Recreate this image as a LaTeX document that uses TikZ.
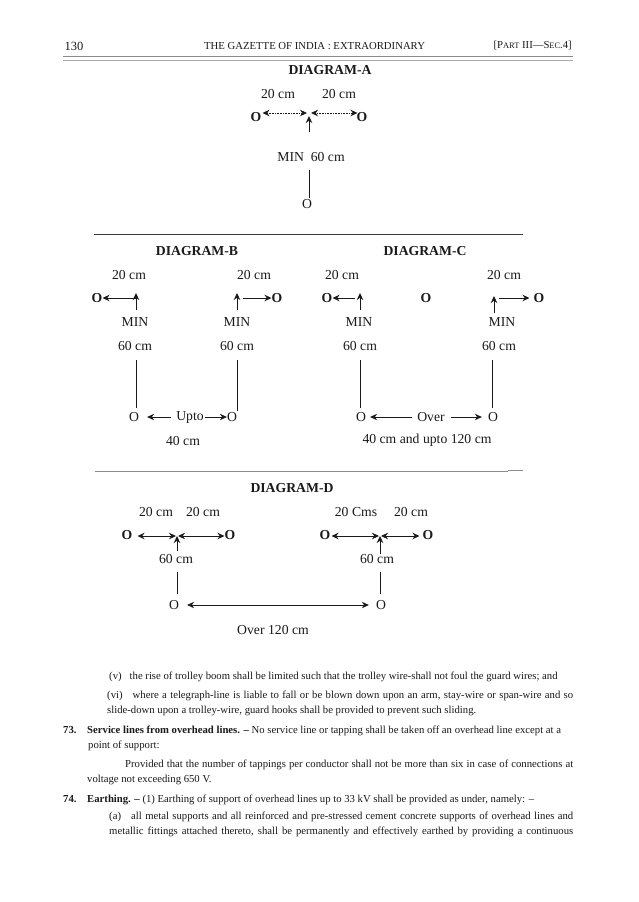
\documentclass[tikz,border=0pt]{standalone}
\usepackage{fontspec}
\setmainfont{Liberation Serif}
\usetikzlibrary{arrows.meta}
\definecolor{inkC}{HTML}{1A1A1A}
\definecolor{ruleC}{HTML}{8A8A8A}
\definecolor{thickC}{HTML}{3A3A3A}
\tikzset{
  lbl/.style={font=\fontsize{13.7}{15}\selectfont, text=inkC, inner sep=0pt},
  hd/.style={lbl, font=\fontsize{13.7}{15}\selectfont\bfseries},
  pole/.style={hd},
  btm/.style={lbl},
  body/.style={font=\fontsize{10.7}{12}\selectfont, text=inkC, inner sep=0pt, anchor=west},
  head/.style={font=\fontsize{10.7}{13}\selectfont, text=inkC, inner sep=0pt},
  arr/.style={-{Stealth[length=7pt,width=6.5pt]}, draw=inkC, line width=1pt},
  both/.style={{Stealth[length=7pt,width=6.5pt]}-{Stealth[length=7pt,width=6.5pt]}, draw=inkC, line width=1pt},
  wire/.style={draw=inkC, line width=0.8pt},
}
\newcommand\smc[1]{{\fontsize{8.4}{10}\selectfont #1}}
\newcommand\just[1]{\makebox[#1][s]}
\begin{document}
\begin{tikzpicture}[x=1pt, y=-1pt]
\useasboundingbox[fill=white] (0,0) rectangle (638,902);
% running head
\node[head, font=\fontsize{12.5}{14}\selectfont] (pgNo) at (74,46) {130};
\node[head, anchor=west] (pgTitle) at (204,46) {THE GAZETTE OF INDIA : EXTRAORDINARY};
\node[head, anchor=east] (pgPart) at (572,46) {[P\smc{ART} III—S\smc{EC}.4]};
\draw[ruleC, line width=0.8pt] (63,56) -- (573,56);
\draw[ruleC!70, line width=0.8pt] (63,60.5) -- (573,60.5);
% diagram A
\node[hd] (aTitle) at (330,70) {DIAGRAM-A};
\node[lbl] (aL) at (278,94) {20 cm};
\node[lbl] (aR) at (339,94) {20 cm};
\node[pole] (aO1) at (256,117) {O};
\node[pole] (aO2) at (362,117) {O};
\coordinate (aJ) at (309,113);
\node[lbl] (aMin) at (311,157) {MIN\ \ 60 cm};
\node[btm] (aO3) at (307,204) {O};
\draw[both, line width=0.8pt, dash pattern=on 0.8pt off 0.8pt, shorten <=1pt, shorten >=2pt] (aO1.north east |- aJ) -- (aJ);
\draw[both, line width=0.8pt, dash pattern=on 0.8pt off 0.8pt, shorten <=2pt, shorten >=-1pt] (aJ) -- (aO2.north west |- aJ);
\draw[arr, shorten <=20pt, shorten >=3pt] (aJ |- aMin.north) -- (aJ);
\draw[wire, shorten <=8pt, shorten >=1pt] (aJ |- aMin.south) -- (aJ |- aO3.north);
\draw[thickC, line width=1.5pt] (94,234.5) -- (515,234.5);
\draw[thickC, line width=0.5pt] (515,234) -- (523,234);
% diagram B
\node[hd] (bTitle) at (197,251) {DIAGRAM-B};
\node[lbl] (bTa) at (129,275) {20 cm};
\node[lbl] (bTb) at (254,275) {20 cm};
\node[pole] (bOa) at (97,298) {O};
\node[pole] (bOb) at (277,298) {O};
\coordinate (bJa) at (136,293);
\coordinate (bJb) at (237,293);
\node[lbl] (bMa) at (135,322) {MIN};
\node[lbl] (bMb) at (237,322) {MIN};
\node[lbl] (bSa) at (135,346) {60 cm};
\node[lbl] (bSb) at (237,346) {60 cm};
\node[btm] (bOc) at (134,417) {O};
\node[btm] (bOd) at (232,417) {O};
\node[lbl] (bUp) at (190,417) {Upto};
\node[lbl] (bFt) at (183,441) {40 cm};
\draw[arr] (bJa |- bOa) -- (bOa.east);
\draw[arr, shorten <=6pt] (bJb |- bOb) -- (bOb.west);
\draw[arr, shorten <=7pt] (bJa |- bMa.north) -- (bJa);
\draw[arr, shorten <=7pt] (bJb |- bMb.north) -- (bJb);
\draw[wire, shorten <=9pt, shorten >=4pt] (bJa |- bSa.south) -- (bJa |- bOc.north);
\draw[wire, shorten <=9pt, shorten >=1pt] (bJb |- bSb.south) -- (bJb |- bOd.north);
\draw[arr, shorten <=5pt, shorten >=8pt] (bUp.west) -- (bOc.east);
\draw[arr, shorten <=1pt] (bUp.east) -- (bOd.west);
% diagram C
\node[hd] (cTitle) at (425,251) {DIAGRAM-C};
\node[lbl] (cTa) at (342,275) {20 cm};
\node[lbl] (cTb) at (504,275) {20 cm};
\node[pole] (cOa) at (327,298) {O};
\node[pole] (cOm) at (426,298) {O};
\node[pole] (cOb) at (539,298) {O};
\coordinate (cJa) at (360,293);
\coordinate (cJb) at (494,296);
\coordinate (cWb) at (492,346);
\node[lbl] (cMa) at (359,322) {MIN};
\node[lbl] (cMb) at (502,322) {MIN};
\node[lbl] (cSa) at (360,346) {60 cm};
\node[lbl] (cSb) at (499,346) {60 cm};
\node[btm] (cOc) at (361,417) {O};
\node[btm] (cOd) at (493,417) {O};
\node[lbl] (cOv) at (431,417) {Over};
\node[lbl] (cFt) at (427,440) {40 cm and upto 120 cm};
\draw[arr, shorten <=5pt] (cJa |- cOa) -- (cOa.east);
\draw[arr, shorten <=5pt, shorten >=4pt] (cJb |- cOb) -- (cOb.west);
\draw[arr, shorten <=7pt] (cJa |- cMa.north) -- (cJa);
\draw[arr, shorten <=4pt] (cJb |- cMb.north) -- (cJb);
\draw[wire, shorten <=9pt, shorten >=4pt] (cWb |- cSb.south) -- (cWb |- cOd.north);
\draw[wire, shorten <=9pt, shorten >=4pt] (cJa |- cSa.south) -- (cJa |- cOc.north);
\draw[arr, shorten <=5pt, shorten >=4pt] (cOv.west) -- (cOc.east);
\draw[arr, shorten <=6pt, shorten >=6pt] (cOv.east) -- (cOd.west);
\draw[ruleC, line width=0.9pt] (95,471) -- (508,471);
\draw[ruleC, line width=0.6pt] (508,470) -- (523,470);
% diagram D
\node[hd] (dTitle) at (292,488) {DIAGRAM-D};
\node[lbl] (dTa) at (156,512) {20 cm};
\node[lbl] (dTb) at (203,512) {20 cm};
\node[lbl] (dTc) at (356,512) {20 Cms};
\node[lbl] (dTd) at (411,512) {20 cm};
\node[pole] (dOa) at (127,535) {O};
\node[pole] (dOb) at (230,535) {O};
\node[pole] (dOc) at (325,535) {O};
\node[pole] (dOd) at (428,535) {O};
\coordinate (dJa) at (177,536);
\coordinate (dJb) at (380,536);
\node[lbl] (dSa) at (176,559) {60 cm};
\node[lbl] (dSb) at (377,559) {60 cm};
\node[btm] (dOe) at (174,605) {O};
\node[btm] (dOf) at (381,605) {O};
\node[lbl] (dFt) at (273,630) {Over 120 cm};
\draw[both, shorten <=5pt, shorten >=1pt] (dOa.east |- dJa) -- (dJa);
\draw[both, shorten <=1pt] (dJa) -- (dOb.west |- dJa);
\draw[both, shorten <=1pt, shorten >=1pt] (dOc.east |- dJb) -- (dJb);
\draw[both, shorten <=1pt, shorten >=3pt] (dJb) -- (dOd.west |- dJb);
\draw[arr, shorten <=3pt] (dJa |- dSa.north) -- (dJa);
\draw[arr, shorten <=0pt] (dJb |- dSb.north) -- (dJb);
\draw[wire, shorten <=8pt, shorten >=6pt] (dJa |- dSa.south) -- (dJa |- dOe.north);
\draw[wire, shorten <=8pt, shorten >=6pt] (dJb |- dSb.south) -- (dJb |- dOf.north);
\draw[both, shorten <=8pt, shorten >=7pt] (dOe.east) -- (dOf.west);
% text under the diagrams
\node[body] (tV) at (109,676.5) {(v)\ \ \ the rise of trolley boom shall be limited such that the trolley wire-shall not foul the guard wires; and};
\node[body] (tVi) at (107,695.5) {\just{466pt}{(vi)\ \ \ where a telegraph-line is liable to fall or be blown down upon an arm, stay-wire or span-wire and so}};
\node[body] (tViB) at (107,710.5) {slide-down upon a trolley-wire, guard hooks shall be provided to prevent such sliding.};
\node[body] (t73) at (63,730.5) {\textbf{73.}};
\node[body] (t73a) at (87,730.5) {\textbf{Service lines from overhead lines. –} No service line or tapping shall be taken off an overhead line except at a};
\node[body] (t73b) at (88,745.5) {point of support:};
\node[body] (tPr) at (125,764.5) {\just{448pt}{Provided that the number of tappings per conductor shall not be more than six in case of connections at}};
\node[body] (tPrB) at (87,779.5) {voltage not exceeding 650 V.};
\node[body] (t74) at (63,799.5) {\textbf{74.}};
\node[body] (t74a) at (87,799.5) {\textbf{Earthing. –} (1) Earthing of support of overhead lines up to 33 kV shall be provided as under, namely: –};
\node[body] (tA) at (109,816.5) {\just{464pt}{(a)\ \ \ all metal supports and all reinforced and pre-stressed cement concrete supports of overhead lines and}};
\node[body] (tAb) at (109,832) {\just{464pt}{metallic fittings attached thereto, shall be permanently and effectively earthed by providing a continuous}};
\end{tikzpicture}
\end{document}
